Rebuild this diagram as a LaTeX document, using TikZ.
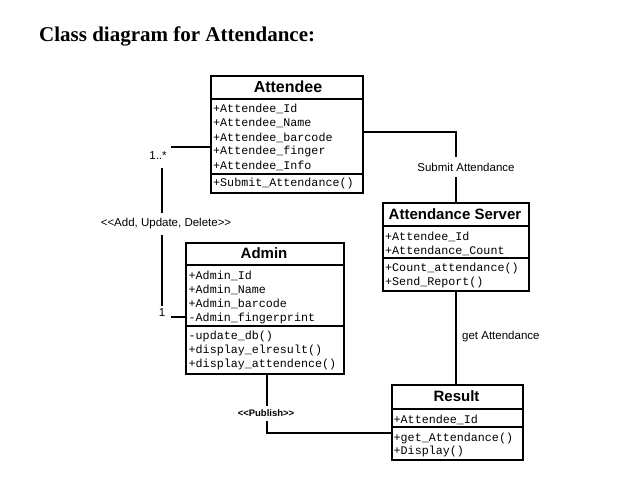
\documentclass[tikz,border=0pt]{standalone}
\usepackage{fontspec}
\setmainfont{Liberation Serif}
\newfontfamily\sansf{Liberation Sans}
\newfontfamily\monof{Liberation Mono}
\begin{document}
\begin{tikzpicture}[x=1pt,y=-1pt,
  cls/.style={draw, line width=1.7pt, inner sep=0, anchor=north west},
  sep/.style={line width=1.7pt},
  ttl/.style={font=\sansf\bfseries\fontsize{15}{15}\selectfont, inner sep=0},
  attr/.style={font=\monof\fontsize{11.7}{12}\selectfont, anchor=west, inner sep=0},
  conn/.style={line width=1.7pt},
  lbl/.style={font=\sansf\fontsize{11.5}{12}\selectfont, fill=white, inner sep=1pt}
]
\fill[white] (0,0) rectangle (638,479);
\useasboundingbox (0,0) rectangle (638,479);

% title
\node[font=\bfseries\fontsize{21}{25}\selectfont, anchor=base west, inner sep=0] (title) at (39,41.5) {Class diagram for Attendance:};

% Attendee
\node[cls, minimum width=152pt, minimum height=117pt] (attendee) at (210,75) {};
\draw[sep] (attendee.west |- 0,99) -- (attendee.east |- 0,99);
\draw[sep] (attendee.west |- 0,174) -- (attendee.east |- 0,174);
\node[ttl, font=\sansf\bfseries\fontsize{16}{16}\selectfont] (attendeeT) at (288,87) {Attendee};
\node[attr] (a1) at (213,109) {+Attendee\_Id};
\node[attr] (a2) at (213,123.3) {+Attendee\_Name};
\node[attr] (a3) at (213,137.6) {+Attendee\_barcode};
\node[attr] (a4) at (213,151.9) {+Attendee\_finger};
\node[attr] (a5) at (213,166.2) {+Attendee\_Info};
\node[attr] (a6) at (213,183) {+Submit\_Attendance()};

% Attendance Server
\node[cls, minimum width=146pt, minimum height=88pt] (server) at (382,202) {};
\draw[sep] (server.west |- 0,226) -- (server.east |- 0,226);
\draw[sep] (server.west |- 0,258) -- (server.east |- 0,258);
\node[ttl] (serverT) at (455,214) {Attendance Server};
\node[attr] (s1) at (385,237.3) {+Attendee\_Id};
\node[attr] (s2) at (385,250.7) {+Attendance\_Count};
\node[attr] (s3) at (385,268.3) {+Count\_attendance()};
\node[attr] (s4) at (385,282.5) {+Send\_Report()};

% Admin
\node[cls, minimum width=158pt, minimum height=131pt] (admin) at (185,242) {};
\draw[sep] (admin.west |- 0,265) -- (admin.east |- 0,265);
\draw[sep] (admin.west |- 0,326) -- (admin.east |- 0,326);
\node[ttl] (adminT) at (264,253.5) {Admin};
\node[attr] (d1) at (188.5,276) {+Admin\_Id};
\node[attr] (d2) at (188.5,290) {+Admin\_Name};
\node[attr] (d3) at (188.5,304) {+Admin\_barcode};
\node[attr] (d4) at (188.5,318.3) {-Admin\_fingerprint};
\node[attr] (d5) at (188.5,336.7) {-update\_db()};
\node[attr] (d6) at (188.5,350.7) {+display\_elresult()};
\node[attr] (d7) at (188.5,364.5) {+display\_attendence()};

% Result
\node[cls, minimum width=131pt, minimum height=75pt] (result) at (391,384) {};
\draw[sep] (result.west |- 0,409) -- (result.east |- 0,409);
\draw[sep] (result.west |- 0,427) -- (result.east |- 0,427);
\node[ttl] (resultT) at (456.5,396.5) {Result};
\node[attr] (r1) at (393.5,419.5) {+Attendee\_Id};
\node[attr] (r2) at (393.5,438.3) {+get\_Attendance()};
\node[attr] (r3) at (393.5,451.8) {+Display()};

% connectors
\draw[conn] (attendee.west |- 0,147) -- (162,147) -- (162,317) -- (admin.west |- 0,317);
\node[lbl, minimum width=26pt, minimum height=24pt, inner sep=0] (many) at (158,156) {1..*};
\node[lbl, minimum width=18pt, minimum height=14pt, inner sep=0] (one) at (162,313) {1};
\node[lbl, minimum height=22pt] (aud) at (166,224) {<\kern0pt<Add, Update, Delete>\kern0pt>};

\draw[conn] (attendee.east |- 0,132) -| (server.north);
\node[lbl, minimum height=20pt] (submit) at (466,167) {Submit Attendance};

\draw[conn] (server.south) -- (server.south |- result.north);
\node[font=\sansf\fontsize{11.5}{12}\selectfont, anchor=west, inner sep=0] (getA) at (462,337) {get Attendance};

\draw[conn] ([xshift=2pt]admin.south) |- (result.west |- 0,433);
\node[lbl, font=\sansf\bfseries\fontsize{9.5}{10}\selectfont, minimum height=15pt] (pub) at (266,413) {<\kern0pt<Publish>\kern0pt>};
\end{tikzpicture}
\end{document}
